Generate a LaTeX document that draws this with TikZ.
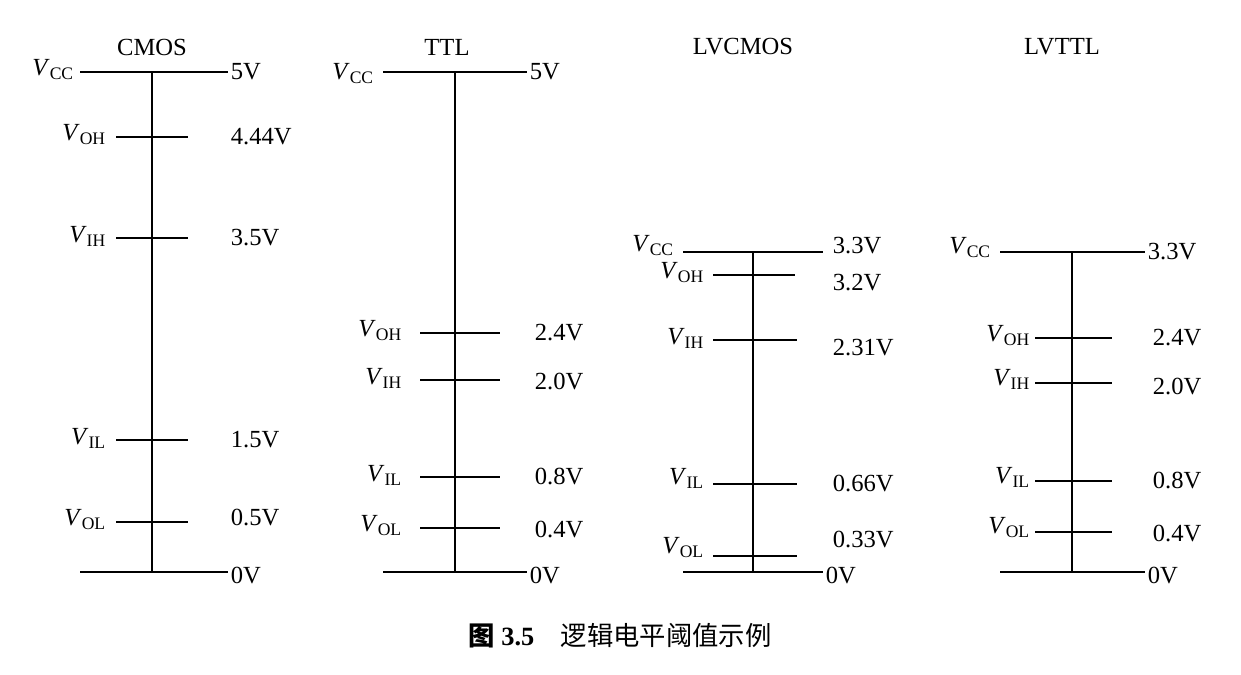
\documentclass[tikz,border=0pt]{standalone}
\usepackage{fontspec}
\setmainfont{Liberation Serif}
\newfontfamily\cjk{Noto Sans CJK SC}
\newcommand{\vlab}[1]{\textit{V}\raisebox{-0.35ex}{\fontsize{10}{12}\selectfont #1}}
\begin{document}
\begin{tikzpicture}[x=0.02cm,y=-0.02cm,line width=1.2pt,
  lab/.style={font=\fontsize{14}{16}\selectfont,inner sep=1pt},
  ll/.style={lab,anchor=east},
  rl/.style={lab,anchor=west}]
\useasboundingbox (0,0) rectangle (1241,675);
% CMOS
\node[lab] (t1) at (152,47) {CMOS};
\draw (152,72) -- (152,572);
\draw (80,72) -- (228,72); \node[ll] at (76,70) {\vlab{CC}}; \node[rl] at (228,72) {5V};
\draw (116,137) -- (188,137); \node[ll] at (108,135) {\vlab{OH}}; \node[rl] at (228,137) {4.44V};
\draw (116,238) -- (188,238); \node[ll] at (108,236) {\vlab{IH}}; \node[rl] at (228,238) {3.5V};
\draw (116,440) -- (188,440); \node[ll] at (108,438) {\vlab{IL}}; \node[rl] at (228,440) {1.5V};
\draw (116,522) -- (188,522); \node[ll] at (108,520) {\vlab{OL}}; \node[rl] at (228,518) {0.5V};
\draw (80,572) -- (228,572); \node[rl] at (228,576) {0V};
% TTL
\node[lab] (t2) at (447,47) {TTL};
\draw (455,72) -- (455,572);
\draw (383,72) -- (527,72); \node[ll] at (376,74) {\vlab{CC}}; \node[rl] at (527,72) {5V};
\draw (420,333) -- (500,333); \node[ll] at (404,331) {\vlab{OH}}; \node[rl] at (532,333) {2.4V};
\draw (420,380) -- (500,380); \node[ll] at (404,378) {\vlab{IH}}; \node[rl] at (532,382) {2.0V};
\draw (420,477) -- (500,477); \node[ll] at (404,475) {\vlab{IL}}; \node[rl] at (532,477) {0.8V};
\draw (420,528) -- (500,528); \node[ll] at (404,526) {\vlab{OL}}; \node[rl] at (532,530) {0.4V};
\draw (383,572) -- (527,572); \node[rl] at (527,576) {0V};
% LVCMOS
\node[lab] (t3) at (743,47) {LVCMOS};
\draw (753,252) -- (753,572);
\draw (683,252) -- (823,252); \node[ll] at (676,246) {\vlab{CC}}; \node[rl] at (830,246) {3.3V};
\draw (713,275) -- (795,275); \node[ll] at (706,273) {\vlab{OH}}; \node[rl] at (830,283) {3.2V};
\draw (713,340) -- (797,340); \node[ll] at (706,338) {\vlab{IH}}; \node[rl] at (830,348) {2.31V};
\draw (713,484) -- (797,484); \node[ll] at (706,478) {\vlab{IL}}; \node[rl] at (830,484) {0.66V};
\draw (713,556) -- (797,556); \node[ll] at (706,548) {\vlab{OL}}; \node[rl] at (830,540) {0.33V};
\draw (683,572) -- (823,572); \node[rl] at (823,576) {0V};
% LVTTL
\node[lab] (t4) at (1062,47) {LVTTL};
\draw (1072,252) -- (1072,572);
\draw (1000,252) -- (1145,252); \node[ll] at (993,248) {\vlab{CC}}; \node[rl] at (1145,252) {3.3V};
\draw (1035,338) -- (1112,338); \node[ll] at (1032,336) {\vlab{OH}}; \node[rl] at (1150,338) {2.4V};
\draw (1035,383) -- (1112,383); \node[ll] at (1032,379) {\vlab{IH}}; \node[rl] at (1150,387) {2.0V};
\draw (1035,481) -- (1112,481); \node[ll] at (1032,477) {\vlab{IL}}; \node[rl] at (1150,481) {0.8V};
\draw (1035,532) -- (1112,532); \node[ll] at (1032,528) {\vlab{OL}}; \node[rl] at (1150,534) {0.4V};
\draw (1000,572) -- (1145,572); \node[rl] at (1145,576) {0V};
% caption
\node[font=\fontsize{15}{17}\selectfont] (cap) at (620,636) {{\cjk\bfseries 图} \textbf{3.5}\quad{\cjk 逻辑电平阈值示例}};
\end{tikzpicture}
\end{document}
